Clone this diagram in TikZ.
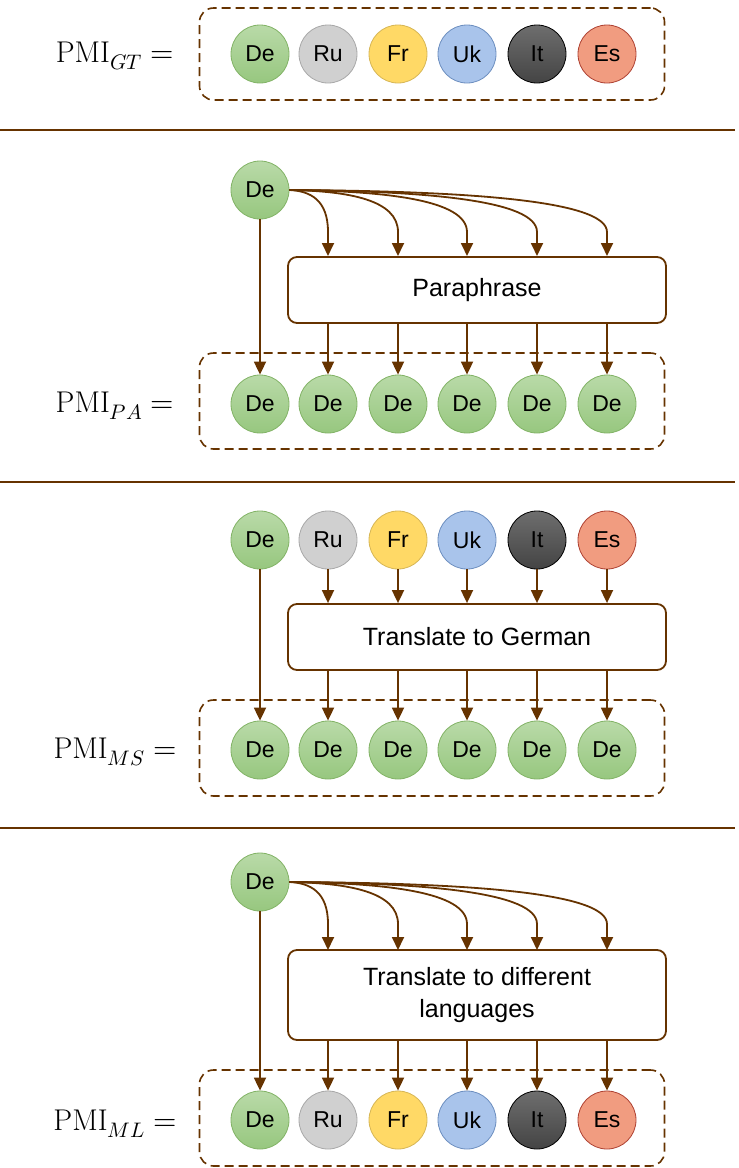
\documentclass[tikz,border=0pt]{standalone}
\usepackage{fontspec}
\setmainfont{Liberation Sans}
\usepackage{unicode-math}
\setmathfont{Latin Modern Math}
\setmathrm{Latin Modern Roman}
\usetikzlibrary{arrows.meta}
\definecolor{br}{HTML}{663300}
\definecolor{gS}{HTML}{82B366}\definecolor{gT}{HTML}{B9DAA8}\definecolor{gB}{HTML}{97C77F}
\definecolor{rS}{HTML}{A8A8A8}\definecolor{rF}{HTML}{D0D0D0}
\definecolor{yS}{HTML}{D6B656}\definecolor{yF}{HTML}{FFD966}
\definecolor{bS}{HTML}{6C8EBF}\definecolor{bF}{HTML}{A9C4EB}
\definecolor{kT}{HTML}{6E6E6E}\definecolor{kB}{HTML}{444444}
\definecolor{oS}{HTML}{AE4132}\definecolor{oF}{HTML}{F19C80}
\tikzset{
 c/.style={circle,minimum size=58pt,inner sep=0pt,line width=0.8pt,font=\fontsize{23}{23}\selectfont},
 de/.style={c,draw=gS,top color=gT,bottom color=gB},
 ru/.style={c,draw=rS,fill=rF},
 fr/.style={c,draw=yS,fill=yF},
 uk/.style={c,draw=bS,fill=bF},
 it/.style={c,draw=black,top color=kT,bottom color=kB},
 es/.style={c,draw=oS,fill=oF},
 dbox/.style={draw=br,dashed,dash pattern=on 9pt off 5pt,line width=1.6pt,rounded corners=14pt},
 pbox/.style={draw=br,line width=1.8pt,rounded corners=9pt,fill=white,align=center,font=\fontsize{25}{32}\selectfont},
 ar/.style={draw=br,line width=1.8pt,-{Triangle[length=13pt,width=12pt]}},
 sep/.style={draw=br,line width=1.6pt},
 lab/.style={font=\fontsize{30}{30}\selectfont,anchor=center}
}
\begin{document}
\begin{tikzpicture}[x=1pt,y=-1pt]
\useasboundingbox (0,0) rectangle (739,1168);
\def\xs{260,328,398,467,537,607}
% separators
\draw[sep] (0,130) -- (735,130);
\draw[sep] (0,482) -- (735,482);
\draw[sep] (0,828) -- (735,828);
% section 1
\node[dbox,minimum width=465pt,minimum height=92pt] (b1) at (432,54) {};
\node[lab] (l1) at (115,56) {$\mathrm{PMI}_{GT}=$};
\node[de] (a1) at (260,54) {De};
\node[ru] (a2) at (328,54) {Ru};
\node[fr] (a3) at (398,54) {Fr};
\node[uk] (a4) at (467,54) {Uk};
\node[it] (a5) at (537,54) {It};
\node[es] (a6) at (607,54) {Es};
% section 2
\node[dbox,minimum width=465pt,minimum height=96pt] (b2) at (432,401) {};
\node[lab] (l2) at (115,406) {$\mathrm{PMI}_{PA}=$};
\node[de] (s2) at (260,190) {De};
\node[pbox,minimum width=378pt,minimum height=66pt] (p2) at (477,290) {Paraphrase};
\foreach \x [count=\i] in \xs {\node[de] (r2\i) at (\x,404) {De};}
\draw[ar] (s2) -- (r21);
\foreach \x [count=\i from 2] in {328,398,467,537,607}{
 \coordinate (t2\i) at (\x,256);
 \draw[ar] (s2.east) .. controls ({\x-0.45*(\x-289)},191) and (\x,200) .. (\x,232) -- (t2\i);
 \draw[ar] (p2.south -| r2\i) -- (r2\i);}
% section 3
\node[dbox,minimum width=465pt,minimum height=96pt] (b3) at (432,748) {};
\node[lab] (l3) at (115,752) {$\mathrm{PMI}_{MS}=$};
\node[de] (q1) at (260,540) {De};
\node[ru] (q2) at (328,540) {Ru};
\node[fr] (q3) at (398,540) {Fr};
\node[uk] (q4) at (467,540) {Uk};
\node[it] (q5) at (537,540) {It};
\node[es] (q6) at (607,540) {Es};
\node[pbox,minimum width=378pt,minimum height=66pt] (p3) at (477,637) {Translate to German};
\foreach \x [count=\i] in \xs {\node[de] (r3\i) at (\x,750) {De};}
\draw[ar] (q1) -- (r31);
\foreach \i in {2,...,6}{
 \draw[ar] (q\i) -- (q\i |- p3.north);
 \draw[ar] (p3.south -| r3\i) -- (r3\i);}
% section 4
\node[dbox,minimum width=465pt,minimum height=96pt] (b4) at (432,1118) {};
\node[lab] (l4) at (115,1124) {$\mathrm{PMI}_{ML}=$};
\node[de] (s4) at (260,882) {De};
\node[pbox,minimum width=378pt,minimum height=90pt] (p4) at (477,995) {Translate to different\\languages};
\node[de] (m1) at (260,1120) {De};
\node[ru] (m2) at (328,1120) {Ru};
\node[fr] (m3) at (398,1120) {Fr};
\node[uk] (m4) at (467,1120) {Uk};
\node[it] (m5) at (537,1120) {It};
\node[es] (m6) at (607,1120) {Es};
\draw[ar] (s4) -- (m1);
\foreach \x [count=\i from 2] in {328,398,467,537,607}{
 \coordinate (t4\i) at (\x,950);
 \draw[ar] (s4.east) .. controls ({\x-0.45*(\x-289)},883) and (\x,892) .. (\x,924) -- (t4\i);
 \draw[ar] (p4.south -| m\i) -- (m\i);}
\end{tikzpicture}
\end{document}
